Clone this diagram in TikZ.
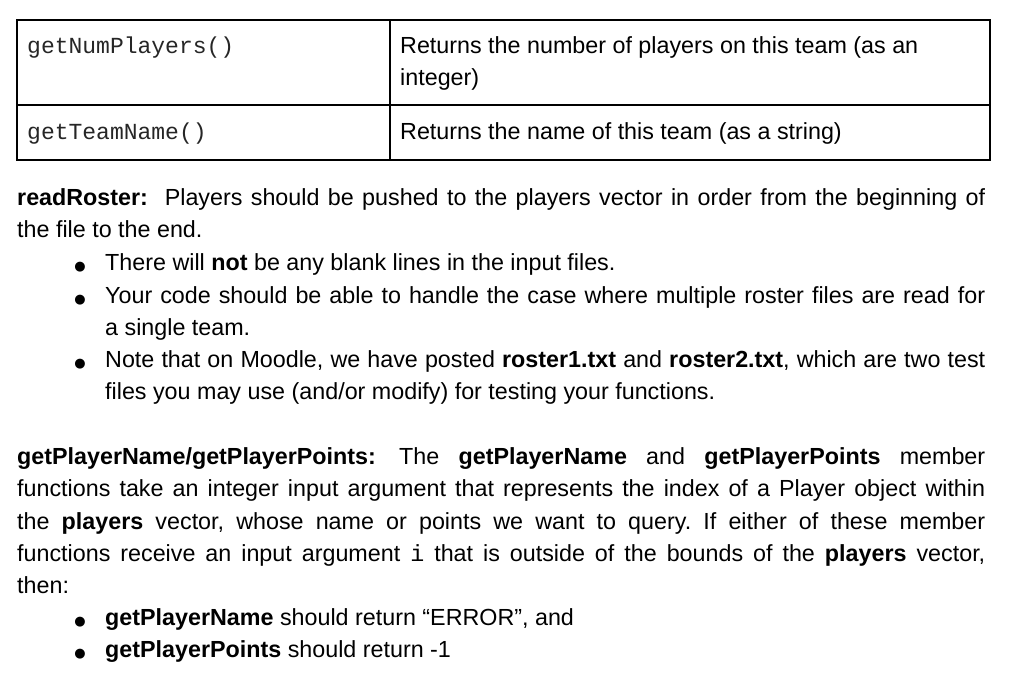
\documentclass[tikz,border=0pt]{standalone}
\usepackage{fontspec}
\setmainfont{Liberation Sans}
\setmonofont{Liberation Mono}
\newfontfamily\bulfont{DejaVu Sans}
\frenchspacing
\begin{document}
\begin{tikzpicture}[x=1pt,y=-1pt,
  txt/.style={anchor=base west,inner sep=0pt,font=\fontsize{23.3}{26}\selectfont},
  code/.style={anchor=base west,inner sep=0pt,font=\fontsize{23}{26}\ttfamily\color{black!85}},
  bul/.style={anchor=base,inner sep=0pt,font=\fontsize{13}{16}\bulfont},
  grid/.style={line width=1.3pt}]
\useasboundingbox[fill=white] (0,0) rectangle (1024,684);
\newcommand\J[1]{\hbox to 968pt{#1}}
\newcommand\K[1]{\hbox to 880pt{#1}}
% table
\draw[grid] (17,20) rectangle (990,160);
\draw[grid] (17,105) -- (990,105);
\draw[grid] (390,20) -- (390,160);
\node[code] (c1) at (27,54) {getNumPlayers()};
\node[txt] (d1) at (400,54) {Returns the number of players on this team (as an};
\node[txt] (d1b) at (400,86) {integer)};
\node[code] (c2) at (27,140) {getTeamName()};
\node[txt] (d2) at (400,140) {Returns the name of this team (as a string)};
% readRoster
\node[txt] (p1) at (17,206) {\J{\textbf{readRoster:}\ \ Players should be pushed to the players vector in order from the beginning of}};
\node[txt] (p2) at (17,238) {the file to the end.};
\node[bul] (b1) at (80,271) {●};
\node[txt] (l1) at (105,271) {There will \textbf{not} be any blank lines in the input files.};
\node[bul] (b2) at (80,303) {●};
\node[txt] (l2) at (105,303) {\K{Your code should be able to handle the case where multiple roster files are read for}};
\node[txt] (l2b) at (105,335) {a single team.};
\node[bul] (b3) at (80,367) {●};
\node[txt] (l3) at (105,367) {\K{Note that on Moodle, we have posted \textbf{roster1.txt} and \textbf{roster2.txt}, which are two test}};
\node[txt] (l3b) at (105,399) {files you may use (and/or modify) for testing your functions.};
% getPlayerName
\node[txt] (q1) at (17,464) {\J{\textbf{getPlayerName/getPlayerPoints:}\quad The \textbf{getPlayerName} and \textbf{getPlayerPoints} member}};
\node[txt] (q2) at (17,496) {\J{functions take an integer input argument that represents the index of a Player object within}};
\node[txt] (q3) at (17,529) {\J{the \textbf{players} vector, whose name or points we want to query. If either of these member}};
\node[txt] (q4) at (17,561) {\J{functions receive an input argument {\ttfamily i} that is outside of the bounds of the \textbf{players} vector,}};
\node[txt] (q5) at (17,593) {then:};
\node[bul] (b4) at (80,625) {●};
\node[txt] (m1) at (105,625) {\textbf{getPlayerName} should return “ERROR”, and};
\node[bul] (b5) at (80,657) {●};
\node[txt] (m2) at (105,657) {\textbf{getPlayerPoints} should return -1};
\end{tikzpicture}
\end{document}
